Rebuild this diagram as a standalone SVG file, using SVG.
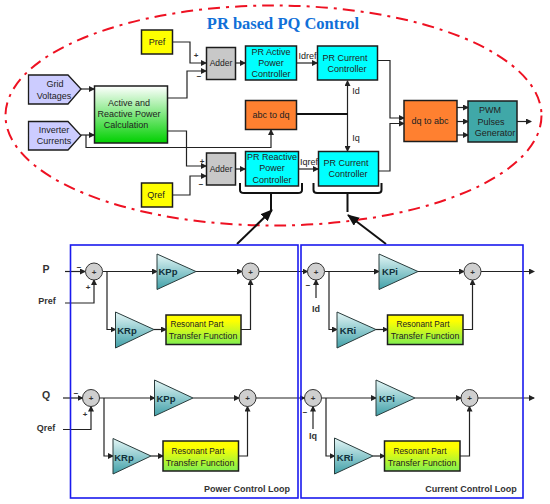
<svg xmlns="http://www.w3.org/2000/svg" width="550" height="504" viewBox="0 0 550 504">
<style>
text{font-family:"Liberation Sans",Arial,sans-serif;font-size:9px;fill:#222;text-anchor:middle}
.b{stroke:#1c1c1c;stroke-width:1.5}
.c{fill:#00ffff}.o{fill:#ff8030}.g{fill:#c8c8c8}.y{fill:#ffff00}
.t{fill:url(#tri);stroke:#2a3c3c;stroke-width:1}
.s{fill:#cfcfcf;stroke:#333;stroke-width:1}
.r{fill:url(#res);stroke:#1c1c1c;stroke-width:1.5}
text.k{font-weight:bold;font-size:9.500px;fill:#10303a}
text.l{font-weight:bold;font-size:9px;fill:#333}
text.m{font-weight:bold;font-size:8px;fill:#333}
text.ad{font-size:8.500px}
text.x1{font-size:8.300px}
text.x2{font-size:8.800px}
.w{fill:none;stroke:#222;stroke-width:1.2}
.th{fill:none;stroke:#111;stroke-width:2}
.lb{fill:none;stroke:#1a1aee;stroke-width:1.6}
</style>
<defs>
<linearGradient id="gr" x1="0" y1="0" x2="0" y2="1"><stop offset="0" stop-color="#fff"/><stop offset="1" stop-color="#00d000"/></linearGradient>
<linearGradient id="res" x1="0" y1="0" x2="0" y2="1"><stop offset="0.2" stop-color="#ffff00"/><stop offset="1" stop-color="#80ee50"/></linearGradient>
<linearGradient id="tri" x1="0" y1="0" x2="0" y2="1"><stop offset="0" stop-color="#e4f6f6"/><stop offset="1" stop-color="#40a0a8"/></linearGradient>
<marker id="a" markerWidth="6" markerHeight="6" refX="5" refY="3" orient="auto" markerUnits="userSpaceOnUse"><path d="M0 0L6 3L0 6z" fill="#222"/></marker>
<marker id="big" markerWidth="12" markerHeight="10" refX="11" refY="5" orient="auto" markerUnits="userSpaceOnUse"><path d="M0 0L12 5L0 10z" fill="#111"/></marker>
</defs>
<rect width="550" height="504" fill="#fff"/>
<ellipse id="boundary" cx="273.5" cy="115.5" rx="268" ry="110" fill="none" stroke="#ee1122" stroke-width="2" stroke-dasharray="12 6 3 6"/>
<text id="title" x="283" y="29" style="font-family:'Liberation Serif',serif;font-size:16.500px;font-weight:bold;fill:#1070d8">PR based PQ Control</text>

<g id="connectors">
<g class="w">
<path d="M81 89H94" marker-end="url(#a)"/>
<path d="M81 135H94" marker-end="url(#a)"/>
<path d="M86 135V147.500H271V130" marker-end="url(#a)"/>
<path d="M167 98H187V71H206" marker-end="url(#a)"/>
<path d="M167 131H186.500V166H206" marker-end="url(#a)"/>
<path d="M173 42H190V63H206" marker-end="url(#a)"/>
<path d="M173 195H190V176H206" marker-end="url(#a)"/>
<path d="M235 63H245" marker-end="url(#a)"/>
<path d="M235 169H245" marker-end="url(#a)"/>
<path d="M296 63H317" marker-end="url(#a)"/>
<path d="M298 169H318" marker-end="url(#a)"/>
<path d="M347.500 114V81" marker-end="url(#a)"/>
<path d="M347.500 114V151" marker-end="url(#a)"/>
<path d="M377 60.500H390V118H404" marker-end="url(#a)"/>
<path d="M378 171H390V123.500H404" marker-end="url(#a)"/>
<path d="M457 107.500H468" marker-end="url(#a)"/>
<path d="M457 121.500H468" marker-end="url(#a)"/>
<path d="M457 135H468" marker-end="url(#a)"/>
<path d="M517 121.500H531" marker-end="url(#a)"/>
</g>
<path d="M296 114H348" class="th"/>
<path d="M240 183V190Q240 193 244 193H298Q302 193 302 190V183M271 193V212" class="th"/>
<path d="M313.500 183V190Q313.500 193 317 193H378Q381.500 193 381.500 190V183M347.500 193V212" class="th"/>
<path d="M237 244L272 210" class="th" marker-end="url(#big)"/>
<path d="M386 244L348 215" class="th" marker-end="url(#big)"/>
<g class="w">
<path d="M65 271.500H85" marker-end="url(#a)"/>
<path d="M65 303H94V280" marker-end="url(#a)"/>
<path d="M103 271.500H157" marker-end="url(#a)"/>
<path d="M107 271.500V329.500H115.500" marker-end="url(#a)"/>
<path d="M196 271.500H242" marker-end="url(#a)"/>
<path d="M154 329.500H166" marker-end="url(#a)"/>
<path d="M241 329.500H250.500V280" marker-end="url(#a)"/>
<path d="M259 271.500H307.500" marker-end="url(#a)"/>
<path d="M316 298V280" marker-end="url(#a)"/>
<path d="M325 271.500H379" marker-end="url(#a)"/>
<path d="M329 271.500V329.500H337" marker-end="url(#a)"/>
<path d="M418 271.500H464" marker-end="url(#a)"/>
<path d="M376 329.500H387.500" marker-end="url(#a)"/>
<path d="M463 329.500H472.500V280" marker-end="url(#a)"/>
<path d="M481 271.500H534" marker-end="url(#a)"/>

<path d="M63 398H82.500" marker-end="url(#a)"/>
<path d="M63 429.500H91V406.500" marker-end="url(#a)"/>
<path d="M100 398H154.500" marker-end="url(#a)"/>
<path d="M104 398V456H113" marker-end="url(#a)"/>
<path d="M193 398H239" marker-end="url(#a)"/>
<path d="M151 456H163" marker-end="url(#a)"/>
<path d="M238.500 456H247.500V406.500" marker-end="url(#a)"/>
<path d="M256 398H304.500" marker-end="url(#a)"/>
<path d="M313 429V406.500" marker-end="url(#a)"/>
<path d="M322 398H376" marker-end="url(#a)"/>
<path d="M326 398V456H334.500" marker-end="url(#a)"/>
<path d="M415 398H461" marker-end="url(#a)"/>
<path d="M373 456H384.500" marker-end="url(#a)"/>
<path d="M460 456H469.500V406.500" marker-end="url(#a)"/>
<path d="M478 398H534" marker-end="url(#a)"/>
</g>
</g>

<g id="grid-voltages"><path d="M28.500 75H68L81 89L68 104H28.500z" fill="#ccccff" stroke="#1c1c1c" stroke-width="1.300"/><text x="55" y="87">Grid</text><text x="54" y="99">Voltages</text></g>
<g id="inverter-currents"><path d="M28.500 121.500H68L81 135.500L68 150H28.500z" fill="#ccccff" stroke="#1c1c1c" stroke-width="1.300"/><text x="54" y="133">Inverter</text><text x="54" y="144">Currents</text></g>
<g id="power-calc"><rect x="94.500" y="86" width="73" height="57" fill="url(#gr)" class="b"/><text x="129" y="106">Active and</text><text x="129" y="117">Reactive Power</text><text x="126" y="128">Calculation</text></g>
<g id="pref"><rect x="141.500" y="30" width="31" height="24" class="y b"/><text x="157" y="45">Pref</text></g>
<g id="qref"><rect x="141.500" y="183" width="31" height="24" class="y b"/><text x="156" y="198">Qref</text></g>
<g id="adder1"><rect x="206.500" y="47.500" width="29" height="32" class="g b"/><text x="221" y="66" class="ad">Adder</text></g>
<g id="adder2"><rect x="206.500" y="153" width="29" height="32" class="g b"/><text x="221" y="172" class="ad">Adder</text></g>
<g id="pr-active"><rect x="245.500" y="46" width="51" height="34" class="c b"/><text x="271" y="55">PR Active</text><text x="271" y="66">Power</text><text x="271" y="77">Controller</text></g>
<g id="abc-dq"><rect x="245.500" y="100.500" width="51" height="29" class="o b"/><text x="271" y="118">abc to dq</text></g>
<g id="pr-reactive"><rect x="245.500" y="151.500" width="53" height="34.500" class="c b"/><text x="272" y="160">PR Reactive</text><text x="272" y="171">Power</text><text x="272" y="183">Controller</text></g>
<g id="pr-current1"><rect x="317.500" y="46" width="60" height="34" class="c b"/><text x="345" y="61">PR Current</text><text x="347" y="72">Controller</text></g>
<g id="pr-current2"><rect x="318.500" y="151.500" width="60" height="34.500" class="c b"/><text x="346" y="166">PR Current</text><text x="348" y="177">Controller</text></g>
<g id="dq-abc"><rect x="404" y="100.500" width="53" height="41" class="o b"/><text x="430" y="124">dq to abc</text></g>
<g id="pwm"><rect x="468" y="101" width="49" height="41" fill="#40a8a8" class="b"/><text x="490" y="113">PWM</text><text x="491" y="125">Pulses</text><text x="495" y="136">Generator</text></g>

<g id="signal-labels">
<text x="196" y="58" class="m">+</text><text x="199" y="79" class="m">−</text>
<text x="202" y="164" class="m">+</text><text x="201" y="187" class="m">−</text>
<text x="307.500" y="59">Idref</text><text x="309" y="165">Iqref</text>
<text x="356" y="94">Id</text><text x="356" y="141">Iq</text>
<text x="46" y="273" style="font-size:10.500px;font-weight:bold;fill:#333">P</text>
<text x="47" y="304" class="l">Pref</text>
<text x="46" y="399" style="font-size:10.500px;font-weight:bold;fill:#333">Q</text>
<text x="46" y="431" class="l">Qref</text>
<text x="79" y="270" class="m">−</text><text x="88" y="290" class="m">+</text>
<text x="76" y="396" class="m">−</text><text x="85" y="417" class="m">+</text>
<text x="308" y="288" class="m">−</text><text x="305" y="415" class="m">−</text>
<text x="316" y="312" class="l">Id</text><text x="313" y="439" class="l">Iq</text>
</g>

<g id="loop-power"><rect x="70.500" y="245" width="227.500" height="253" class="lb"/><text x="247" y="492" class="l">Power Control Loop</text></g>
<g id="loop-current"><rect x="301" y="245" width="222" height="253" class="lb"/><text x="471" y="492" class="l">Current Control Loop</text></g>

<g id="p-row">
<circle cx="94" cy="271.500" r="8.500" class="s"/><text x="94" y="274.500" class="m">+</text>
<path d="M157 254V289.500L196 271.500z" class="t"/><text x="168" y="275" class="k">KPp</text>
<circle cx="250.500" cy="271.500" r="8.500" class="s"/><text x="250.500" y="274.500" class="m">+</text>
<path d="M115.500 312V348L154 329.500z" class="t"/><text x="127" y="334" class="k">KRp</text>
<rect x="166" y="315" width="75" height="29.500" class="r"/><text x="197" y="327" class="x1">Resonant Part</text><text x="203" y="339" class="x2">Transfer Function</text>
</g>
<g id="q-row">
<circle cx="91" cy="398" r="8.500" class="s"/><text x="91" y="401" class="m">+</text>
<path d="M154.500 380V416L193 398z" class="t"/><text x="166" y="402" class="k">KPp</text>
<circle cx="247.500" cy="398" r="8.500" class="s"/><text x="247.500" y="401" class="m">+</text>
<path d="M113 438.500V474L151 456z" class="t"/><text x="124" y="461" class="k">KRp</text>
<rect x="163" y="441" width="75.500" height="30" class="r"/><text x="198" y="454" class="x1">Resonant Part</text><text x="200" y="466" class="x2">Transfer Function</text>
</g>
<g id="d-row">
<circle cx="316" cy="271.500" r="8.500" class="s"/><text x="316" y="274.500" class="m">+</text>
<path d="M379 254V289.500L418 271.500z" class="t"/><text x="390" y="275" class="k">KPi</text>
<circle cx="472.500" cy="271.500" r="8.500" class="s"/><text x="472.500" y="274.500" class="m">+</text>
<path d="M337 312V348L376 329.500z" class="t"/><text x="348" y="334" class="k">KRi</text>
<rect x="387.500" y="315" width="75.500" height="29.500" class="r"/><text x="423" y="327" class="x1">Resonant Part</text><text x="425" y="339" class="x2">Transfer Function</text>
</g>
<g id="q-current-row">
<circle cx="313" cy="398" r="8.500" class="s"/><text x="313" y="401" class="m">+</text>
<path d="M376 380V416L415 398z" class="t"/><text x="387" y="402" class="k">KPi</text>
<circle cx="469.500" cy="398" r="8.500" class="s"/><text x="469.500" y="401" class="m">+</text>
<path d="M334.500 438V474L373 456z" class="t"/><text x="345" y="461" class="k">KRi</text>
<rect x="384.500" y="441" width="75.500" height="30" class="r"/><text x="420" y="454" class="x1">Resonant Part</text><text x="422" y="466" class="x2">Transfer Function</text>
</g>
</svg>
